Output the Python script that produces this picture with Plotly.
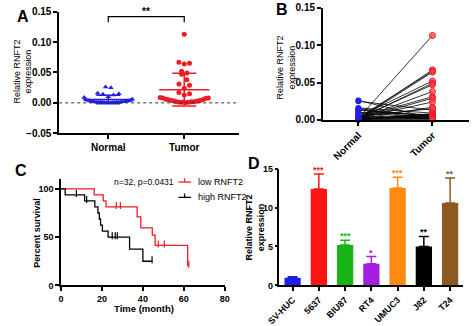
import numpy as np
import plotly.graph_objects as go

W, H = 474, 326
FONT = "Liberation Sans"

# ---- A/B: paired relative RNFT2 expression, n = 32 ----
normal_expr = [0.002, 0.001, 0.003, 0.0005, 0.004, 0.001, 0.002, 0.025,
               0.001, 0.003, 0.016, 0.0008, 0.002, 0.013, 0.001, 0.005,
               0.0004, 0.026, 0.0002, 0.010, 0.001, 0.003, 0.015, 0.0006,
               0.002, 0.009, 0.0003, 0.004, 0.014, 0.0001, 0.006, 0.001]
tumor_expr = [0.113, 0.067, 0.065, 0.064, 0.052, 0.049, 0.047, 0.013,
              0.038, 0.031, 0.009, 0.029, 0.024, 0.005, 0.017, 0.015,
              0.008, 0.002, 0.008, 0.007, 0.006, 0.005, 0.004, 0.004,
              0.003, 0.003, 0.002, 0.002, 0.001, 0.001, 0.001, 0.0005]
groups = ["Normal", "Tumor"]

# ---- C: Kaplan-Meier curves ----
low_time = [0, 16.2, 20.6, 22.0, 37.2, 39.0, 44.6, 46.0, 61.9, 62.5]
low_surv = [100, 93.75, 87.5, 81.25, 71.0, 59.5, 52.0, 41.5, 20.5, 20.5]
low_cens_time = [27.0, 29.0, 47.5, 50.5, 62.5]
low_cens_surv = [81.25, 81.25, 41.5, 41.5, 20.5]
high_time = [0, 2.0, 11.5, 16.5, 18.0, 18.7, 19.3, 20.2, 23.0, 33.5, 40.0, 44.5]
high_surv = [100, 93.75, 87.5, 81.25, 75.0, 68.75, 62.5, 56.25, 50.0, 37.5, 25.0, 25.0]
high_cens_time = [7.5, 12.5, 25.0, 26.5, 27.5, 44.5]
high_cens_surv = [93.75, 87.5, 50.0, 50.0, 50.0, 25.0]

# ---- D: cell lines ----
cell_lines = ["SV-HUC", "5637", "BIU87", "RT4", "UMUC3", "J82", "T24"]
cell_mean = [1.0, 12.4, 5.2, 2.8, 12.5, 5.0, 10.6]
cell_sd = [0.1, 1.9, 0.6, 0.9, 1.4, 1.3, 3.2]
cell_sig = ["", "***", "***", "*", "***", "**", "**"]
cell_colors = ["#1f1fe8", "#ff1414", "#17b317", "#a51fe3", "#ff8a12", "#000000", "#8c5a1e"]

BLUE = "#1f1fe8"
RED = "#ee1c24"


def px(x):
    return x / W


def py(y):
    return 1 - y / H


# axis geometry in pixels
A_X = (48, 235); A_Y = (7, 134)
B_X = (322, 474); B_Y = (3, 120)
C_X = (50, 220); C_Y = (182, 293)
D_X = (277, 468); D_Y = (171, 293)

A_XR = [(48 - 99) / 79, (235 - 99) / 79]
B_XR = [(322 - 359) / 77, 1 + (474 - 436) / 77]


def swarm(values, ppx, ppy, gap_px=6, step_px=5.5, half_px=25):
    """Spread points of similar value sideways (highest values to the outside)."""
    values = np.asarray(values)
    order = list(np.argsort(values, kind="stable"))
    clusters, cur = [], [order[0]]
    for i in order[1:]:
        if (values[i] - values[cur[0]]) * ppy <= gap_px:
            cur.append(i)
        else:
            clusters.append(cur)
            cur = [i]
    clusters.append(cur)
    offs = np.zeros(len(values))
    for cl in clusters:
        n = len(cl)
        if n == 1:
            continue
        step = min(step_px, 2 * half_px / (n - 1))
        slots = (np.arange(n) - (n - 1) / 2) * step
        slots = slots[np.argsort(-np.abs(slots), kind="stable")]
        members = sorted(cl, key=lambda k: -values[k])
        for k, s in zip(members, slots):
            offs[k] = s / ppx
    return offs


fig = go.Figure()

# ---------------- Panel A ----------------
a_ppx = 79
a_ppy = (A_Y[1] - A_Y[0]) / 0.20
markers = {"Normal": dict(symbol="triangle-up", color=BLUE), "Tumor": dict(symbol="circle", color=RED)}
for gi, (g, vals) in enumerate(zip(groups, [normal_expr, tumor_expr])):
    v = np.array(vals)
    offs = swarm(v, a_ppx, a_ppy)
    col = markers[g]["color"]
    m, s = v.mean(), v.std(ddof=1)
    fig.add_trace(go.Scatter(x=gi + offs, y=v, mode="markers", xaxis="x", yaxis="y",
                             marker=dict(size=5, symbol=markers[g]["symbol"], color=col),
                             cliponaxis=False, showlegend=False))
    fig.add_trace(go.Scatter(x=[gi - 0.33, gi + 0.33], y=[m, m], mode="lines", xaxis="x", yaxis="y",
                             line=dict(color=col, width=1.5), showlegend=False))
    fig.add_trace(go.Scatter(x=[gi], y=[m], mode="markers", xaxis="x", yaxis="y",
                             marker=dict(size=1, color=col),
                             error_y=dict(type="data", array=[s], color=col, thickness=1.5, width=12),
                             showlegend=False))

# zero reference line
fig.add_trace(go.Scatter(x=A_XR, y=[0, 0], mode="lines", xaxis="x", yaxis="y",
                         line=dict(color="#333333", width=1, dash="dot"), showlegend=False))
# significance bracket
fig.add_trace(go.Scatter(x=[0, 0, 1, 1], y=[0.1325, 0.142, 0.142, 0.1325], mode="lines",
                         xaxis="x", yaxis="y", line=dict(color="black", width=1.2),
                         cliponaxis=False, showlegend=False))

# ---------------- Panel B ----------------
lx, ly = [], []
for n, t in zip(normal_expr, tumor_expr):
    lx += [0, 1, None]
    ly += [n, t, None]
fig.add_trace(go.Scatter(x=lx, y=ly, mode="lines", xaxis="x2", yaxis="y2",
                         line=dict(color="black", width=0.8), cliponaxis=False, showlegend=False))
fig.add_trace(go.Scatter(x=[0] * len(normal_expr), y=normal_expr, mode="markers", xaxis="x2", yaxis="y2",
                         marker=dict(size=6, color=BLUE), cliponaxis=False, showlegend=False))
fig.add_trace(go.Scatter(x=[1] * len(tumor_expr), y=tumor_expr, mode="markers", xaxis="x2", yaxis="y2",
                         marker=dict(size=6, color="rgba(238,60,70,0.7)", line=dict(color=RED, width=1)),
                         cliponaxis=False, showlegend=False))

# ---------------- Panel C ----------------
for tt, ss, ct, cs, col in [(low_time, low_surv, low_cens_time, low_cens_surv, RED),
                            (high_time, high_surv, high_cens_time, high_cens_surv, "black")]:
    fig.add_trace(go.Scatter(x=tt, y=ss, mode="lines", line_shape="hv", xaxis="x3", yaxis="y3",
                             line=dict(color=col, width=1.3), showlegend=False))
    fig.add_trace(go.Scatter(x=ct, y=[c + 1.5 for c in cs], mode="markers", xaxis="x3", yaxis="y3",
                             marker=dict(symbol="line-ns-open", size=5, color=col,
                                         line=dict(color=col, width=1.2)),
                             showlegend=False))

# ---------------- Panel D ----------------
for i, (name, m, s, col) in enumerate(zip(cell_lines, cell_mean, cell_sd, cell_colors)):
    fig.add_trace(go.Bar(x=[i], y=[m], width=0.62, xaxis="x4", yaxis="y4",
                         marker=dict(color=col, line=dict(width=0)),
                         error_y=dict(type="data", symmetric=False, array=[s], arrayminus=[0],
                                      color=col, thickness=1.5, width=5),
                         showlegend=False))

tick_b = dict(family=FONT, size=10, color="black", weight="bold")
tick_c = dict(family=FONT, size=9, color="black", weight="bold")
axis_common = dict(showline=True, linecolor="black", linewidth=1.5, ticks="outside",
                   ticklen=4, tickwidth=1.5, tickcolor="black", showgrid=False, zeroline=False,
                   fixedrange=True)

fig.update_layout(
    width=W, height=H, margin=dict(l=0, r=0, t=0, b=0),
    paper_bgcolor="white", plot_bgcolor="white",
    xaxis=dict(domain=[px(A_X[0]), px(A_X[1])], range=A_XR, anchor="y",
               tickvals=[0, 1], ticktext=groups, tickfont=tick_b, **axis_common),
    yaxis=dict(domain=[py(A_Y[1]), py(A_Y[0])], range=[-0.05, 0.15], anchor="x",
               tickvals=[-0.05, 0, 0.05, 0.10, 0.15], tickformat=".2f", tickfont=tick_b, **axis_common),
    xaxis2=dict(domain=[px(B_X[0]), px(B_X[1])], range=B_XR, anchor="y2",
                tickvals=[0, 1], ticktext=groups, tickangle=-45, tickfont=tick_b, **axis_common),
    yaxis2=dict(domain=[py(B_Y[1]), py(B_Y[0])], range=[0, 0.15], anchor="x2",
                tickvals=[0, 0.05, 0.10, 0.15], tickformat=".2f", tickfont=tick_b, **axis_common),
    xaxis3=dict(domain=[px(C_X[0]), px(C_X[1])], range=[0, 80], anchor="y3",
                tickvals=[0, 20, 40, 60, 80], tickfont=tick_c, **axis_common),
    yaxis3=dict(domain=[py(C_Y[1]), py(C_Y[0])], range=[0, 110], anchor="x3",
                tickvals=[0, 50, 100], tickfont=tick_c, **axis_common),
    xaxis4=dict(domain=[px(D_X[0]), px(D_X[1])], range=[-0.5, 6.5], anchor="y4",
                tickvals=list(range(len(cell_lines))), ticktext=cell_lines, tickangle=-45,
                tickfont=tick_c, **axis_common),
    yaxis4=dict(domain=[py(D_Y[1]), py(D_Y[0])], range=[0, 15], anchor="x4",
                tickvals=[0, 5, 10, 15], tickfont=tick_c, ticklen=3, **{k: v for k, v in axis_common.items() if k != "ticklen"}),
)

ann = []
# panel letters
for letter, x, y in [("A", 10, 12), ("B", 280, 5), ("C", 8, 173), ("D", 251, 166)]:
    ann.append(dict(text=letter, x=px(x), y=py(y), xref="paper", yref="paper", showarrow=False,
                    xanchor="center", yanchor="middle",
                    font=dict(family=FONT, size=16, color="black", weight="bold")))
# axis titles
title_reg = dict(family=FONT, size=9, color="black")
title_bold = dict(family=FONT, size=9, color="black", weight="bold")
for text, x, y, f in [("Relative RNFT2<br>expression", 10, 70, title_reg),
                      ("Relative RNFT2<br>expression", 284, 65, title_reg),
                      ("Percent survival", 25, 238, title_bold),
                      ("Relative RNFT2<br>expression", 252, 232, title_bold)]:
    ann.append(dict(text=text, x=px(x), y=py(y), xref="paper", yref="paper", showarrow=False,
                    textangle=-90, xanchor="center", yanchor="middle", font=f))
ann.append(dict(text="Time (month)", x=px(136), y=py(317), xref="paper", yref="paper",
                showarrow=False, xanchor="center", yanchor="middle",
                font=dict(family=FONT, size=9.5, color="black", weight="bold")))
# significance in A
ann.append(dict(text="**", x=0.5, y=0.142, xref="x", yref="y", showarrow=False,
                yanchor="bottom", yshift=-2, font=dict(family=FONT, size=10, color="black", weight="bold")))
# statistics text and legend in C
ann.append(dict(text="n=32, p=0.0431", x=px(103), y=py(185), xref="paper", yref="paper",
                showarrow=False, xanchor="left", yanchor="middle",
                font=dict(family=FONT, size=8.5, color="black")))
for lbl, col, y in [("low RNFT2", RED, 185), ("high RNFT2", "black", 201)]:
    ann.append(dict(text=lbl, x=px(190), y=py(y), xref="paper", yref="paper", showarrow=False,
                    xanchor="left", yanchor="middle", font=dict(family=FONT, size=9, color="black")))
# stars over bars in D
for i, (m, s, sig, col) in enumerate(zip(cell_mean, cell_sd, cell_sig, cell_colors)):
    if sig:
        ann.append(dict(text=sig, x=i, y=m + s, xref="x4", yref="y4", showarrow=False,
                        yanchor="bottom", yshift=-3,
                        font=dict(family=FONT, size=9, color=col, weight="bold")))
fig.update_layout(annotations=ann)

# legend samples for C
shapes = []
for col, y in [(RED, 185), ("black", 201)]:
    shapes.append(dict(type="line", xref="paper", yref="paper", x0=px(172), x1=px(185),
                       y0=py(y), y1=py(y), line=dict(color=col, width=1.3)))
    shapes.append(dict(type="line", xref="paper", yref="paper", x0=px(178.5), x1=px(178.5),
                       y0=py(y), y1=py(y - 4), line=dict(color=col, width=1.2)))
fig.update_layout(shapes=shapes)

fig.write_html("out.html")
